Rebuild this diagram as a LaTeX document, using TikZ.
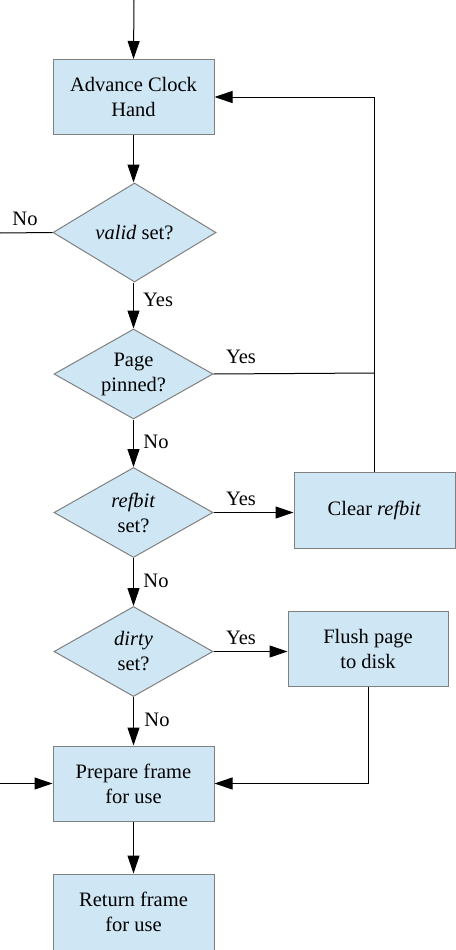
\documentclass[tikz,border=0pt]{standalone}
\usepackage{fontspec}
\setmainfont{Liberation Serif}
\usetikzlibrary{shapes.geometric,arrows.meta}
\definecolor{boxfill}{RGB}{207,231,245}
\definecolor{boxline}{RGB}{128,128,128}
\tikzset{
  procbox/.style={draw=boxline, fill=boxfill, line width=1pt, rectangle, inner sep=0pt,
    minimum width=161pt, minimum height=75pt, align=center},
  decision/.style={draw=boxline, fill=boxfill, line width=1pt, diamond, aspect=1.75, inner sep=0pt,
    minimum width=159pt, minimum height=90pt},
  dtext/.style={align=center, inner sep=0pt},
  conn/.style={line width=1pt, draw=black},
  arr/.style={conn, -{Triangle[length=18pt,width=12pt]}},
  lbl/.style={inner sep=0pt}
}
\begin{document}
\begin{tikzpicture}[x=1pt,y=-1pt, font=\rmfamily\fontsize{20.5}{25}\selectfont]
\useasboundingbox (0,0) rectangle (455,950);
\node[procbox] (adv) at (133.5,97) {Advance Clock\\Hand};
\node[decision, minimum width=163pt, minimum height=99pt] (valid) at (134.5,232.5) {};
\node[dtext] (validt) at (valid.center) {\textit{valid} set?};
\node[decision] (pinned) at (133.5,374) {};
\node[dtext] (pinnedt) at (pinned.center) {Page\\pinned?};
\node[decision] (refbit) at (133.5,512.5) {};
\node[dtext] (refbitt) at (refbit.center) {\textit{refbit}\\set?};
\node[decision] (dirty) at (133.5,651.5) {};
\node[dtext] (dirtyt) at (dirty.center) {\textit{dirty}\\set?};
\node[procbox, minimum height=76pt] (clear) at (374.5,510) {Clear \textit{refbit}};
\node[procbox, minimum width=160pt] (flush) at (368,648.5) {Flush page\\to disk};
\node[procbox] (prep) at (133.5,783.5) {Prepare frame\\for use};
\node[procbox, minimum height=76pt] (ret) at (133.5,912) {Return frame\\for use};
\coordinate (top) at (134,0);
\coordinate (noend) at (0,233);
\coordinate (inleft) at (0,783.5);
\coordinate (junc) at (374.5,373);
% connectors
\draw[arr] (top) -- (adv.north);
\draw[arr] (adv.south) -- (adv.south |- valid.north);
\draw[conn] (valid.west) -- (noend);
\draw[arr] (valid.south -| pinned.north) -- (pinned.north);
\draw[conn] (pinned.east) -- (junc);
\draw[arr] (clear.north) |- (adv.east);
\draw[arr] (pinned.south) -- (refbit.north);
\draw[arr] (refbit.east) -- (clear.west |- refbit.east);
\draw[arr] (refbit.south) -- (dirty.north);
\draw[arr] (dirty.east) -- (flush.west |- dirty.east);
\draw[arr] (dirty.south) -- (prep.north);
\draw[arr] (flush.south) |- (prep.east);
\draw[arr] (inleft) -- (prep.west);
\draw[arr] (prep.south) -- (ret.north);
% labels
\node[lbl] (lno1) at (25,219) {No};
\node[lbl, anchor=west] (lyes1) at (143,300) {Yes};
\node[lbl] (lyes2) at (241,357) {Yes};
\node[lbl] (lno2) at (156,442) {No};
\node[lbl] (lyes3) at (241,499) {Yes};
\node[lbl] (lno3) at (156,581) {No};
\node[lbl] (lyes4) at (241,638) {Yes};
\node[lbl] (lno4) at (157,720) {No};
\end{tikzpicture}
\end{document}
